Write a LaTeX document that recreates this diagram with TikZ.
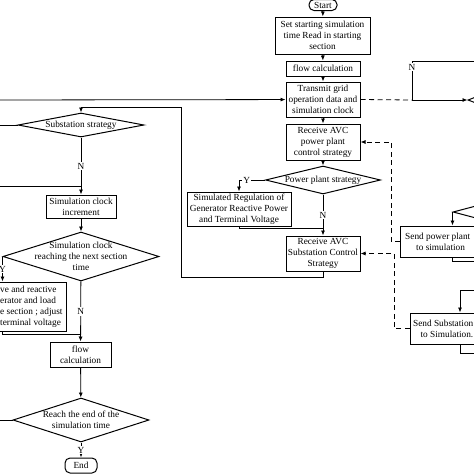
\documentclass[tikz,border=0pt]{standalone}
\usepackage{fontspec}
\setmainfont{Liberation Serif}
\usetikzlibrary{shapes.geometric, arrows.meta}

\begin{document}
\begin{tikzpicture}[x=1pt, y=-1pt,
        every node/.style={font=\fontsize{9.3}{11}\selectfont},
        procbox/.style={draw, line width=1pt, rectangle, align=center, inner sep=1pt},
        termbox/.style={draw, line width=1pt, rectangle, rounded corners=5pt, inner sep=1pt, minimum height=11pt},
        decision/.style={draw, line width=1pt, diamond, inner sep=0pt},
        lbl/.style={fill=white, inner sep=1pt},
        conn/.style={line width=0.8pt},
        arr/.style={conn, -{Latex[length=5pt, width=4pt]}},
        dasharr/.style={arr, dash pattern=on 5pt off 3.5pt}]
        \useasboundingbox (0,0) rectangle (474,474);
        \clip (0,0) rectangle (474,474);
        % middle column
        \node[termbox, minimum width=28pt] (start) at (323,5) {Start};
        \node[procbox, minimum width=95pt, minimum height=37pt] (setup) at (322.5,35.5) {Set starting simulation\\time Read in starting\\section};
        \node[procbox, minimum width=74pt, minimum height=15pt] (flowa) at (323,68.5) {flow calculation};
        \node[procbox, minimum width=74pt, minimum height=35pt] (transmit) at (323,99.5) {Transmit grid\\operation data and\\simulation clock};
        \node[procbox, minimum width=74pt, minimum height=36pt] (recvpp) at (323,142) {Receive AVC\\power plant\\control strategy};
        \node[decision, minimum width=115pt, minimum height=28pt, label={[align=center]center:{Power plant strategy}}] (ppdec) at (323,180) {};
        \node[procbox, minimum width=104pt, minimum height=34pt] (simreg) at (239,209) {Simulated Regulation of\\Generator Reactive Power\\and Terminal Voltage};
        \node[procbox, minimum width=74pt, minimum height=35pt] (recvsub) at (323,253.5) {Receive AVC\\Substation Control\\Strategy};
        % left column
        \node[decision, minimum width=126pt, minimum height=24pt, label={[align=center]center:{Substation strategy}}] (subdec) at (81,125) {};
        \node[procbox, minimum width=70pt, minimum height=23pt] (clockinc) at (81,206.5) {Simulation clock\\increment};
        \node[decision, minimum width=156pt, minimum height=49pt, label={[align=center]center:{Simulation clock\\reaching the next section\\time}}] (clockdec) at (81,256.5) {};
        \node[procbox, minimum width=128pt, minimum height=49pt] (adjust) at (2,306.5) {};
        \node[anchor=west, align=left, inner sep=0pt] (adjusttext) at (0,306.5) {ve and reactive\\erator and load\\e section ; adjust\\terminal voltage};
        \node[procbox, minimum width=61pt, minimum height=25pt] (flowb) at (80.5,354.5) {flow\\calculation};
        \node[decision, minimum width=136pt, minimum height=44pt, label={[align=center]center:{Reach the end of the\\simulation time}}] (enddec) at (81,420) {};
        \node[termbox, minimum width=32pt, minimum height=15pt] (stop) at (81,465.5) {End};
        % right column
        \node[decision, minimum width=100pt, minimum height=40pt] (rdeca) at (518,100) {};
        \node[decision, minimum width=120pt, minimum height=32pt] (rdecb) at (513,212) {};
        \node[procbox, minimum width=120pt, minimum height=31pt] (sendpp) at (460,241.5) {};
        \node[anchor=west, align=left, inner sep=0pt] (sendpptext) at (405,241.5) {Send power plant\\\hspace*{11pt}to simulation};
        \node[procbox, minimum width=120pt, minimum height=31pt] (sendsub) at (470,328.5) {};
        \node[anchor=east, align=right, inner sep=0pt] (sendsubtext) at (473.5,328.5) {Send Substation\\to Simulation.};
        % free ends and joints
        \coordinate (inleft) at (-5,100);
        \coordinate (subleft) at (-5,125);
        \coordinate (clockleft) at (-5,186);
        \coordinate (endleft) at (-5,420);
        \coordinate (joinsim) at (323,228);
        \coordinate (loopa) at (181,277);
        \coordinate (loopb) at (181,107);
        \coordinate (joinflow) at (81,334);
        \coordinate (joinright) at (412,100);
        \coordinate (toprgt) at (480,61);
        \coordinate (dpp) at (391,241.5);
        \coordinate (dsub) at (394,328.5);
        \coordinate (rgta) at (480,261);
        \coordinate (rgtb) at (480,290);
        \coordinate (rgtc) at (480,353);
        % connectors
        \draw[arr] (start) -- (setup);
        \draw[arr] (setup) -- (flowa);
        \draw[arr] (flowa) -- (transmit);
        \draw[arr] (transmit) -- (recvpp);
        \draw[arr] (recvpp) -- (ppdec);
        \draw[arr] (ppdec) -- node[lbl]{N} (recvsub);
        \draw[arr] (ppdec.west) -| node[lbl, pos=0.35]{Y} (simreg.north);
        \draw[conn] (simreg.south) |- (joinsim);
        \draw[arr] (recvsub.south) |- (loopa) -- (loopb) -| (subdec.north);
        \draw[arr] (inleft) -- (transmit);
        \draw[conn] (subdec.west) -- (subleft);
        \draw[arr] (subdec) -- node[lbl]{N} (clockinc);
        \draw[conn] (clockleft) -- (clockleft -| clockinc.north);
        \draw[arr] (clockinc) -- (clockdec);
        \draw[arr] (clockdec) -- node[lbl]{N} (flowb);
        \draw[arr] (clockdec.west) -- node[lbl]{Y} (clockdec.west |- adjust.north);
        \draw[conn] (adjust.south) |- (joinflow);
        \draw[arr] (flowb) -- (enddec);
        \draw[arr] (enddec) -- node[lbl]{Y} (stop);
        \draw[conn] (enddec.west) -- (endleft);
        \draw[conn, dash pattern=on 5pt off 3.5pt] (transmit.east) -- (joinright);
        \draw[arr] (joinright) -- (rdeca.west);
        \draw[conn] (toprgt) -| node[lbl, pos=0.58]{N} (joinright);
        \draw[dasharr] (sendpp.west) -- (dpp) |- (recvpp.east);
        \draw[dasharr] (sendsub.west) -- (dsub) |- (recvsub.east);
        \draw[arr] (rdecb.west) -- (rdecb.west |- sendpp.north);
        \draw[conn] (sendpp.south -| rdecb.west) |- (rgta);
        \draw[arr] (rgtb) -| ([xshift=-10pt]sendsub.north);
        \draw[conn] ([xshift=-10pt]sendsub.south) |- (rgtc);
\end{tikzpicture}
\end{document}
